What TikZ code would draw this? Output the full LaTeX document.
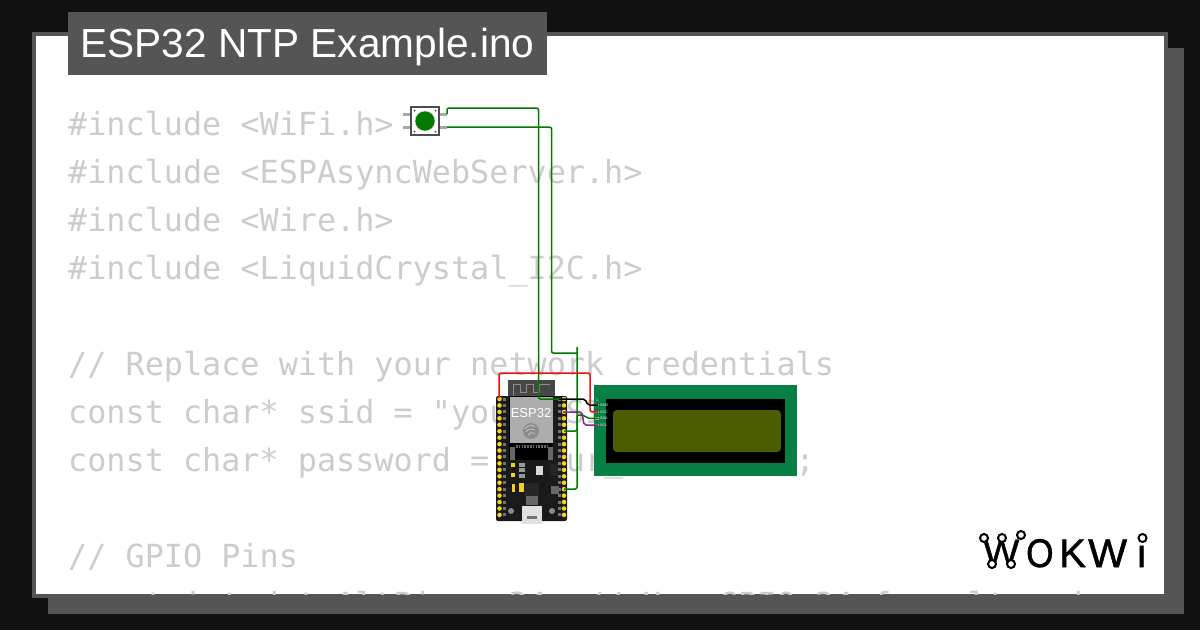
\documentclass[tikz,border=0pt]{standalone}
\usepackage{fontspec}
\setmainfont{Liberation Sans}
\setmonofont{DejaVu Sans Mono}
\newfontfamily\logofont[FakeBold=1.2]{Liberation Sans}
\definecolor{bgdark}{HTML}{111111}
\definecolor{frame}{HTML}{555555}
\definecolor{codegray}{HTML}{CCCCCC}
\definecolor{pcb}{HTML}{1A1A1A}
\definecolor{padyellow}{HTML}{F2D21B}
\definecolor{lcdgreen}{HTML}{087F45}
\definecolor{lcdscreen}{HTML}{4A5E00}
\definecolor{wiregreen}{HTML}{007A00}
\definecolor{wirered}{HTML}{EE0F14}
\definecolor{wirepurple}{HTML}{8E1F96}
\tikzset{
	codeline/.style={anchor=base west, inner sep=0pt, text=codegray, font=\ttfamily\fontsize{31.8}{32}\selectfont},
	titlebox/.style={fill=frame, text=white, inner sep=0pt, minimum width=479pt, minimum height=63pt, text height=29pt, text depth=1pt, font=\fontsize{40.6}{41}\selectfont},
	logotext/.style={anchor=base west, inner sep=0pt, text=black, transform shape, font=\logofont\fontsize{40}{40}\selectfont},
	logodot/.style={circle, draw=black, fill=white, line width=2pt, inner sep=0pt, minimum size=8pt},
	wire/.style={line width=1.5pt, rounded corners=2pt},
	tinylabel/.style={inner sep=0pt, text=white, font=\fontsize{3.6}{4}\selectfont}
}
\begin{document}
\begin{tikzpicture}[x=1pt, y=-1pt]
		\useasboundingbox (0, 0) rectangle (1200, 630);
		\fill[bgdark] (0, 0) rectangle (1200, 630);
		\fill[frame] (48, 48) rectangle (1184, 614);
		\fill[frame] (32, 32) rectangle (1168, 598);
		\fill[white] (36, 36) rectangle (1164, 594);
		
		\begin{scope}
			\clip (36, 36) rectangle (1164, 594);
			\node[codeline] (inca) at (68, 135)		{\#include <WiFi.h>};
			\node[codeline] (incb) at (68, 183)		{\#include <ESPAsyncWebServer.h>};
			\node[codeline] (incc) at (68, 231)		{\#include <Wire.h>};
			\node[codeline] (incd) at (68, 279)		{\#include <LiquidCrystal\_I2C.h>};
			\node[codeline] (cred) at (68, 375)		{// Replace with your network credentials};
			\node[codeline] (ssid) at (68, 423)		{const char* ssid = "your\_SSID";};
			\node[codeline] (pass) at (68, 471)		{const char* password = "your\_PASSWORD";};
			\node[codeline] (gpio) at (68, 567)		{// GPIO Pins};
			\node[codeline] (alt) at (68, 615)		{const int dataAltPin = 34; // Use GPIO 34 for alt and};
		\end{scope}
		
		\node[titlebox] (title) at (307.5, 43.5)		{ESP32 NTP Example.ino};
		
		% logo
		\node[logotext, xscale=1.06, font=\logofont\fontsize{36}{36}\selectfont] (logoa) at (983, 564.5)		{W};
		\node[logotext, xscale=.88] (logob) at (1026, 567)		{O};
		\node[logotext] (logoc) at (1059, 567)		{K};
		\node[logotext, xscale=1.03] (logod) at (1088, 567)		{W};
		\node[logotext] (logoe) at (1137, 567)		{i};
		\node[logodot] (dota) at (984, 538)		{};
		\node[logodot] (dotb) at (1002, 538)		{};
		\node[logodot] (dotc) at (1021, 535)		{};
		\node[logodot] (dotd) at (992, 564)		{};
		\node[logodot] (dote) at (1011, 564)		{};
		\node[logodot] (dotf) at (1142.5, 538)		{};
		
		% button
		\fill[gray!70] (403, 112.5) rectangle (447, 115.5);
		\fill[gray!70] (403, 125.5) rectangle (447, 128.5);
		\draw[line width=2.4pt, draw=black!70, fill=white] (411.2, 107.2) rectangle (438.8, 134.8);
		\foreach \px/\py in {414.5/110.5, 435.5/110.5, 414.5/131.5, 435.5/131.5}
			\fill[black!75] (\px, \py) circle (1pt);
		\node[circle, fill=wiregreen, draw=black!10, inner sep=0pt, minimum size=20pt] (btn) at (425, 121)		{};
		\coordinate (btna) at (447, 114);
		\coordinate (btnb) at (447, 127);
		
		% board
		\fill[black!72] (508, 380) rectangle (555, 398);
		\draw[black!45, line width=.8pt] (513, 396) -- (513, 384) -- (520, 384) -- (520, 392) -- (526, 392) -- (526, 384) -- (533, 384) -- (533, 392) -- (539, 392) -- (539, 384) -- (550, 384);
		\fill[pcb, rounded corners=2pt] (496, 396) rectangle (567, 521);
		\fill[black] (509, 396) rectangle (553, 460);
		\fill[black!60] (510, 447) rectangle (515, 460);
		\fill[black!60] (548, 447) rectangle (553, 460);
		\foreach \px in {0,...,11}
			\fill[black!60] (516 + 2.8*\px, 445) rectangle (517.6 + 2.8*\px, 448);
		\fill[black!32] (510, 397) rectangle (553, 443);
		\node[inner sep=0pt, text=white, font=\fontsize{13}{13}\selectfont] (chip) at (531, 413)		{ESP32};
		\fill[black!45] (531, 431) circle (8pt);
		\draw[black!20, line width=.7pt] (525, 429) arc[start angle=150, end angle=60, radius=7pt];
		\draw[black!20, line width=.7pt] (526, 432) arc[start angle=150, end angle=60, radius=6pt];
		\draw[black!20, line width=.7pt] (528, 435) arc[start angle=150, end angle=60, radius=5pt];
		\foreach \py in {0,...,18} {
			\fill[padyellow] (499.5, 399 + 6.44*\py) circle (2.3pt);
			\fill[padyellow] (564, 399 + 6.44*\py) circle (2.3pt);
			\fill[black!55] (503, 397.5 + 6.44*\py) rectangle (506, 400.5 + 6.44*\py);
			\fill[black!55] (557.5, 397.5 + 6.44*\py) rectangle (560.5, 400.5 + 6.44*\py);
		}
		\fill[black!90] (527, 463) rectangle (548, 477);
		\fill[black!15] (536, 466) rectangle (543, 475);
		\fill[padyellow] (511, 463) rectangle (515, 467);
		\fill[padyellow] (511, 473) rectangle (515, 477);
		\fill[black!40] (519, 463) rectangle (525, 467);
		\fill[black!40] (519, 468) rectangle (525, 472);
		\fill[black!40] (519, 474) rectangle (525, 478);
		\fill[padyellow] (512, 484) rectangle (515, 492);
		\fill[padyellow] (519, 483) rectangle (524, 492);
		\fill[black!85] (525, 483) rectangle (539, 497);
		\fill[black!85] (550, 464) rectangle (558, 476);
		\fill[black!60] (551, 486) rectangle (559, 494);
		\fill[black!45] (511, 511) circle (3pt);
		\fill[black!45] (552, 511) circle (3pt);
		\fill[black!60] (526, 496) rectangle (538, 505);
		\fill[black!12] (522, 506) rectangle (542, 524);
		\fill[black!55] (527, 516) rectangle (537, 519);
		\coordinate (esptx) at (559, 399);
		\coordinate (espvin) at (499, 398);
		\coordinate (espsda) at (564, 431);
		\coordinate (espscl) at (563, 412);
		\coordinate (espbtn) at (564, 489);
		
		% lcd
		\node[fill=lcdgreen, inner sep=0pt, minimum width=203pt, minimum height=91pt] (lcd) at (695.5, 430.5)		{};
		\node[fill=black, inner sep=0pt, minimum width=179pt, minimum height=64pt] (frame) at (695.5, 431)		{};
		\node[fill=lcdscreen, rounded corners=4pt, inner sep=0pt, minimum width=168pt, minimum height=42pt] (screen) at (697, 431)		{};
		\node[tinylabel] (pinone) at (597, 400.5)		{1};
		\foreach \py/\ptext/\pname in {405.2/GND/gnd, 411.8/VCC/vcc, 418.3/SDA/sda, 425/SCL/scl} {
			\fill[black!35] (595, \py - 1.2) rectangle (599, \py + 1.2);
			\node[tinylabel, anchor=west] (lbl\pname) at (600, \py)		{\ptext};
			\coordinate (lcd\pname) at (598, \py);
		}
		
		% wires
		\draw[wire, wiregreen] (btna) -- (447, 108) -- (538.5, 108) -- (538.5, 399) -- (esptx);
		\draw[wire, wiregreen] (btnb) -- (551.5, 127) -- (551.5, 353) -- (577, 353);
		\draw[wire, wiregreen] (577, 347) -- (577, 489) -- (espbtn);
		\draw[wire, wiregreen] (espsda) -- (577, 431) -- (577, 415) -- (584, 415) -- (587, 418.3) -- (lcdsda);
		\draw[wire, wirered] (espvin) -- (499, 373) -- (590, 373) -- (590, 411.8) -- (lcdvcc);
		\draw[wire, black] (esptx) -- (585, 399) -- (588, 405.2) -- (lcdgnd);
		\draw[wire, wirepurple] (espscl) -- (582, 412) -- (584, 425) -- (lcdscl);
	\end{tikzpicture}
\end{document}
